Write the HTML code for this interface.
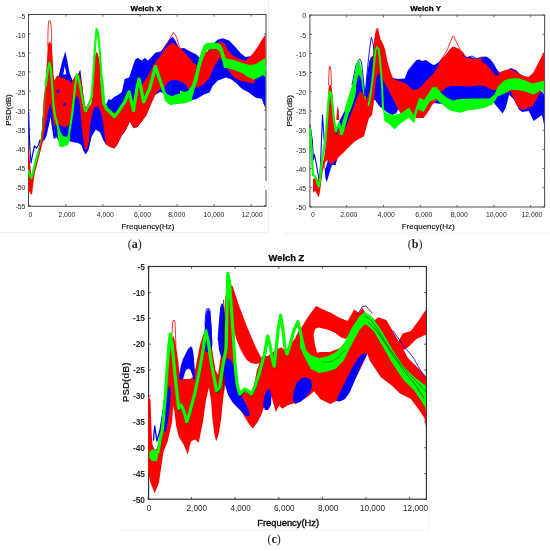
<!DOCTYPE html>
<html><head><meta charset="utf-8"><style>
html,body{margin:0;padding:0;background:#fff;}
body{width:550px;height:551px;overflow:hidden;}
svg{display:block;}
text{font-family:"Liberation Sans",Arial,sans-serif;fill:#262626;}
.ttl{fill:#000;stroke:#000;stroke-width:0.25px;}
.lab{fill:#111;stroke:#111;stroke-width:0.15px;}
.serif{font-family:"Liberation Serif","Times New Roman",serif;}
</style></head><body>
<svg width="550" height="551" viewBox="0 0 550 551">
<rect width="550" height="551" fill="#fff"/>
<path d="M0 232.5H268.5V0M284.5 233H550" fill="none" stroke="#f1f1f1" stroke-width="1"/>
<path d="M118 530H429V262" fill="none" stroke="#f1f1f1" stroke-width="1"/>
<defs><clipPath id="ca"><rect x="27.9" y="14.5" width="237.65" height="191.8"/></clipPath></defs>
<line x1="28.7" y1="206.3" x2="28.7" y2="204.1" stroke="#4a4a4a" stroke-width="0.8"/>
<line x1="28.7" y1="14.5" x2="28.7" y2="16.7" stroke="#4a4a4a" stroke-width="0.8"/>
<line x1="65.8" y1="206.3" x2="65.8" y2="204.1" stroke="#4a4a4a" stroke-width="0.8"/>
<line x1="65.8" y1="14.5" x2="65.8" y2="16.7" stroke="#4a4a4a" stroke-width="0.8"/>
<line x1="102.9" y1="206.3" x2="102.9" y2="204.1" stroke="#4a4a4a" stroke-width="0.8"/>
<line x1="102.9" y1="14.5" x2="102.9" y2="16.7" stroke="#4a4a4a" stroke-width="0.8"/>
<line x1="140" y1="206.3" x2="140" y2="204.1" stroke="#4a4a4a" stroke-width="0.8"/>
<line x1="140" y1="14.5" x2="140" y2="16.7" stroke="#4a4a4a" stroke-width="0.8"/>
<line x1="177.1" y1="206.3" x2="177.1" y2="204.1" stroke="#4a4a4a" stroke-width="0.8"/>
<line x1="177.1" y1="14.5" x2="177.1" y2="16.7" stroke="#4a4a4a" stroke-width="0.8"/>
<line x1="214.2" y1="206.3" x2="214.2" y2="204.1" stroke="#4a4a4a" stroke-width="0.8"/>
<line x1="214.2" y1="14.5" x2="214.2" y2="16.7" stroke="#4a4a4a" stroke-width="0.8"/>
<line x1="251.3" y1="206.3" x2="251.3" y2="204.1" stroke="#4a4a4a" stroke-width="0.8"/>
<line x1="251.3" y1="14.5" x2="251.3" y2="16.7" stroke="#4a4a4a" stroke-width="0.8"/>
<line x1="28.5" y1="14.7" x2="30.7" y2="14.7" stroke="#4a4a4a" stroke-width="0.8"/>
<line x1="266" y1="14.7" x2="263.8" y2="14.7" stroke="#4a4a4a" stroke-width="0.8"/>
<line x1="28.5" y1="33.8" x2="30.7" y2="33.8" stroke="#4a4a4a" stroke-width="0.8"/>
<line x1="266" y1="33.8" x2="263.8" y2="33.8" stroke="#4a4a4a" stroke-width="0.8"/>
<line x1="28.5" y1="52.9" x2="30.7" y2="52.9" stroke="#4a4a4a" stroke-width="0.8"/>
<line x1="266" y1="52.9" x2="263.8" y2="52.9" stroke="#4a4a4a" stroke-width="0.8"/>
<line x1="28.5" y1="71.9" x2="30.7" y2="71.9" stroke="#4a4a4a" stroke-width="0.8"/>
<line x1="266" y1="71.9" x2="263.8" y2="71.9" stroke="#4a4a4a" stroke-width="0.8"/>
<line x1="28.5" y1="91" x2="30.7" y2="91" stroke="#4a4a4a" stroke-width="0.8"/>
<line x1="266" y1="91" x2="263.8" y2="91" stroke="#4a4a4a" stroke-width="0.8"/>
<line x1="28.5" y1="110.1" x2="30.7" y2="110.1" stroke="#4a4a4a" stroke-width="0.8"/>
<line x1="266" y1="110.1" x2="263.8" y2="110.1" stroke="#4a4a4a" stroke-width="0.8"/>
<line x1="28.5" y1="129.2" x2="30.7" y2="129.2" stroke="#4a4a4a" stroke-width="0.8"/>
<line x1="266" y1="129.2" x2="263.8" y2="129.2" stroke="#4a4a4a" stroke-width="0.8"/>
<line x1="28.5" y1="148.3" x2="30.7" y2="148.3" stroke="#4a4a4a" stroke-width="0.8"/>
<line x1="266" y1="148.3" x2="263.8" y2="148.3" stroke="#4a4a4a" stroke-width="0.8"/>
<line x1="28.5" y1="167.3" x2="30.7" y2="167.3" stroke="#4a4a4a" stroke-width="0.8"/>
<line x1="266" y1="167.3" x2="263.8" y2="167.3" stroke="#4a4a4a" stroke-width="0.8"/>
<line x1="28.5" y1="186.4" x2="30.7" y2="186.4" stroke="#4a4a4a" stroke-width="0.8"/>
<line x1="266" y1="186.4" x2="263.8" y2="186.4" stroke="#4a4a4a" stroke-width="0.8"/>
<line x1="28.5" y1="205.5" x2="30.7" y2="205.5" stroke="#4a4a4a" stroke-width="0.8"/>
<line x1="266" y1="205.5" x2="263.8" y2="205.5" stroke="#4a4a4a" stroke-width="0.8"/>
<rect x="28.5" y="14.5" width="237.5" height="191.8" fill="none" stroke="#4a4a4a" stroke-width="1"/>
<g clip-path="url(#ca)">
<polygon points="41.5,140 42.5,118 44,112 48,100 52,95 55,85 58.7,76 62,62 65.3,51.6 67.5,62 69.6,73 72.5,80 76,84 79,72 80.3,69.5 80.8,74 81.8,82 83.2,95 85,106 88,108 92,104 96,100 100,105 104,108 108.7,99 111,100 114,97 118,95 121.8,92 124.7,78.9 129.1,77.5 134.9,60 137.8,57.8 141.5,60.5 145.1,57.8 148,60.7 155.3,52.7 161.1,51.3 166,44 169.8,38.9 172.7,36.7 175.6,41.1 179.3,48.4 184,48 189.8,51.3 196.4,54.5 199.6,57.8 205,55 212,45 217.6,39.8 222.5,38.2 229.1,40.6 235.6,47.2 240.5,52.9 245.5,57 250.4,56.2 255,60 262,68 266,72 266,110 261.8,99.1 255.3,97.5 248.7,92.5 242.2,88.9 238.9,86 237.3,84 230.7,79.1 225.8,77.5 217.6,80.7 212.7,86 209.5,92.5 204.5,94.2 196.4,99.1 186.5,101.5 180,102.4 172,98 165,94 160,92 155,95 150,105 146.5,115 142,121 137.8,126.7 133.5,128.2 129.8,121.6 126.2,129.6 121.8,135.5 117.5,144.2 114.5,148.5 110.2,147.1 105.8,144.2 103.1,139.8 100.2,132.5 95.8,129.6 91.5,136.9 88.5,150 85.6,154.5 83,150 81.3,145 78,143 72,142 69.6,141 66,140 62,140 58.7,141.3 56.5,137 55.5,138.5 53.5,125 51,112 50.3,108 49.5,112 47,125 44.5,137 43.5,141.5" fill="#0000ff"/>
<polyline points="28.6,112 29,125 29.5,140 30.3,155 31,163 32.5,155 34.5,146 36.5,148 38.5,145 40,140" fill="none" stroke="#0000ff" stroke-width="1.2" stroke-linejoin="round" stroke-linecap="round"/>
<polygon points="41.6,140 42.5,120 43.5,100 44.6,92 45.6,81.8 47,60 47.8,45.5 49,42 50,41.8 51.9,45.5 52.9,62.9 53.6,76 54.4,80.4 55.1,78.9 57.3,75.3 60.9,77.5 63.8,78.2 68.2,80.4 71.1,83.3 72.5,80.4 75,76 79.1,73.1 80.5,78 82,84 83.5,95 85,106 88,108 91,104 92.8,95 93.3,80 93.8,66 95,56 96.3,52 97.5,53 99.5,60 100.5,70 101.6,85 103,98 105,104 108,108 112,113 116,112 120,107 125,100 129,92 131,98 134,105 137,92 139.5,88 142.2,84.7 145,80 148,76 151,70 153.8,64.4 158.2,58.5 164,51.3 168.4,45.5 172.7,42.5 175.6,44.7 178.5,47 180,47.5 184.9,52.9 188.2,56.2 193.1,62.7 198,66 201,60 204.5,52.9 211.1,49.6 216,45 219.3,41.5 224.2,43.1 228,50 232,55 237.3,57.8 245.5,61.1 252,54.5 256.9,48 261.8,39.8 265.1,34.9 266,33 266,66 262,68 258,72 253.6,84 248.7,82.4 240.5,80.7 234,77.5 229.1,70.9 226,66 222,60 219.3,58 214.4,66 209.5,77.5 204,84 198,87.3 188.2,88.9 180,87.3 172,88 165,89 161.1,88.9 158.2,90.4 155.3,94.7 150.9,104.9 146.5,115.1 142.2,120.9 137.8,126.7 133.5,128.2 129.8,121.6 126.2,129.6 121.8,135.5 117.5,144.2 114.5,148.5 110.2,147.1 105.8,144.2 103.5,125 101,112 97.5,106 94,108 92,115 90,125 89,140 87.3,148.4 85.7,149.5 84.9,148.4 83.5,140 82,128 80.5,112 79.2,100 77,95 75,100 73,112 71,120 68,126 65,127 62,126 58.8,125 56,124 54.5,126 53,122 51.5,112 50.3,104 49,110 47.5,118 46,126 44.5,134 43.3,140" fill="#ff0000"/>
<polygon points="28.5,145 29.5,156 30.5,168 31.5,176 33,172 35,163 37,155 39,147 41,138 42.5,128 44,115 45.5,100 46.5,92 48,100 47,112 46,125 44.5,136 42,145 39.5,155 37,165 35,172 33.5,182 32,194.5 30.5,194 28.5,190" fill="#ff0000"/>
<polygon points="50.3,103 52,112 53.5,124 55.5,138 53.8,139 52,128 50.5,117 49,125 46.5,136 44,141 43.3,138 45.5,126 48,112" fill="#0000ff"/>
<ellipse cx="58" cy="91.2" rx="1.4" ry="1.8" fill="#0000ff"/>
<ellipse cx="64.5" cy="104.3" rx="1.3" ry="1.6" fill="#0000ff"/>
<polygon points="163,92 166,84 170,80.5 176,80 182,82 187,86 189,92" fill="#0000ff"/>
<polyline points="47.8,46 48,32 48.4,23 49.2,20.4 50,20.6 50.8,23 51.3,30 51.6,38 51.8,45" fill="none" stroke="#ff0000" stroke-width="0.8" stroke-linejoin="round" stroke-linecap="round"/>
<polygon points="64.8,66 63.2,75 66.3,74" fill="#fff"/>
<polyline points="162.5,52.7 168.4,41.1 173.5,32.4 176.4,36.7 179.3,46.9" fill="none" stroke="#ff0000" stroke-width="0.8" stroke-linejoin="round" stroke-linecap="round"/>
<polyline points="28.5,171 30,176 31.5,178 33.5,170 36,160 38.5,151" fill="none" stroke="#00ff00" stroke-width="2.2" stroke-linejoin="round" stroke-linecap="round"/>
<polyline points="38.5,151 41,141 42.5,128 44,112 45.6,86 47.5,72" fill="none" stroke="#5a9a00" stroke-width="1.1" stroke-linejoin="round" stroke-linecap="round"/>
<polyline points="45.6,86 47.5,72 49.5,62.5 51,70 52.2,86 53.5,105 55,116 58,127 59.6,142 60.4,145 63,145 66,144 67.7,140.3 69.4,132.1 72.6,110.8 75.1,86.3 76.7,74.5 78,76 80.8,89.6 83.2,102.7 84.9,110 86,111.3 88,106 90.5,100 91.6,97 92.5,85 93.5,72 94.5,55 95.6,40 96.6,29 98,33 99.3,45 100.3,60 101.6,77.5 103.6,102.7 106.9,109.2 108.7,110.7 111,113 114.5,116.5 118.9,110.7 124.7,102 129.1,91.8 133.5,110.7 137.1,87.5 139,79 141.5,90.5 143.6,102 149.5,88.9 152,80 155.3,66.5 159.6,78.9 164,92 168,97 172,99 178,96 183,97 186.5,97.5 190,95 196.4,80.7 199.6,64.4 204.5,46.4 207.8,43.9 212.7,44.7 217.6,44.7 220.9,48 224.2,57.8 226.6,62.7" fill="none" stroke="#00ff00" stroke-width="2.2" stroke-linejoin="round" stroke-linecap="round"/>
<polygon points="58.5,126 60,131 63,136 67,137 69.4,132 70,140 67.7,145 63,147 59.8,147 58.5,140" fill="#00ff00"/>
<polygon points="224,58 234,60 242,63 250,65 256,64 262,60 266,58 266,78 263,75 258,78 253.6,79.5 248,77 242,73 234,70 226,67.6" fill="#00ff00"/>
<polyline points="101.6,77.5 103.6,102.7 106.9,109.2 108.7,110.7 111,113 114.5,116.5 118.9,110.7 124.7,102 129.1,91.8 133.5,110.7 137.1,87.5 139,79 141.5,90.5 143.6,102 149.5,88.9 152,80 155.3,66.5 159.6,78.9 164,92" fill="none" stroke="#00ff00" stroke-width="3.2" stroke-linejoin="round" stroke-linecap="round"/>
<polygon points="162,88 166,94 172,96 178,94 184,93 190,92 193,90 192,101 186,103 178,104 170,105 165,101" fill="#00ff00"/>
<polygon points="180,90 184,92 188,91 192,85 195,75 198,62 201,52 204,45 207,43 212,42.5 217,43 220,44 222.5,48 224.5,55 226,60 227,68 224,68 222,60 220,52 217,49 212,49 207.5,50 205,54 202,62 199,72 196,84 193,95 190,100 186,101 182,100 180,99" fill="#00ff00"/>
</g>
<rect x="264.5" y="181" width="2.6" height="9" fill="#fff"/>
<text x="30.5" y="216.8" font-size="6.8" text-anchor="middle">0</text>
<text x="66.9" y="216.8" font-size="6.8" text-anchor="middle">2,000</text>
<text x="105.3" y="216.8" font-size="6.8" text-anchor="middle">4,000</text>
<text x="142.5" y="216.8" font-size="6.8" text-anchor="middle">6,000</text>
<text x="176.7" y="216.8" font-size="6.8" text-anchor="middle">8,000</text>
<text x="214" y="216.8" font-size="6.8" text-anchor="middle">10,000</text>
<text x="252.2" y="216.8" font-size="6.8" text-anchor="middle">12,000</text>
<text x="25.5" y="18.5" font-size="7" text-anchor="end">-5</text>
<text x="25.5" y="37.6" font-size="7" text-anchor="end">-10</text>
<text x="25.5" y="56.7" font-size="7" text-anchor="end">-15</text>
<text x="25.5" y="75.8" font-size="7" text-anchor="end">-20</text>
<text x="25.5" y="94.8" font-size="7" text-anchor="end">-25</text>
<text x="25.5" y="113.9" font-size="7" text-anchor="end">-30</text>
<text x="25.5" y="133" font-size="7" text-anchor="end">-35</text>
<text x="25.5" y="152.1" font-size="7" text-anchor="end">-40</text>
<text x="25.5" y="171.2" font-size="7" text-anchor="end">-45</text>
<text x="25.5" y="190.2" font-size="7" text-anchor="end">-50</text>
<text x="25.5" y="209.3" font-size="7" text-anchor="end">-55</text>
<text x="146" y="10.6" font-size="8" font-weight="bold" text-anchor="middle" class="ttl">Welch X</text>
<text x="147.9" y="229" font-size="8" text-anchor="middle" class="lab">Frequency(Hz)</text>
<text transform="translate(10.6,110) rotate(-90)" font-size="8" text-anchor="middle" class="lab">PSD(dB)</text>
<text x="134.8" y="247.5" font-size="12" text-anchor="middle" class="serif">(<tspan font-weight="bold">a</tspan>)</text>
<defs><clipPath id="cb"><rect x="309.29999999999995" y="15.1" width="234.85000000000005" height="191.9"/></clipPath></defs>
<line x1="309.9" y1="207" x2="309.9" y2="204.8" stroke="#4a4a4a" stroke-width="0.8"/>
<line x1="309.9" y1="15.1" x2="309.9" y2="17.3" stroke="#4a4a4a" stroke-width="0.8"/>
<line x1="346.7" y1="207" x2="346.7" y2="204.8" stroke="#4a4a4a" stroke-width="0.8"/>
<line x1="346.7" y1="15.1" x2="346.7" y2="17.3" stroke="#4a4a4a" stroke-width="0.8"/>
<line x1="383.5" y1="207" x2="383.5" y2="204.8" stroke="#4a4a4a" stroke-width="0.8"/>
<line x1="383.5" y1="15.1" x2="383.5" y2="17.3" stroke="#4a4a4a" stroke-width="0.8"/>
<line x1="420.3" y1="207" x2="420.3" y2="204.8" stroke="#4a4a4a" stroke-width="0.8"/>
<line x1="420.3" y1="15.1" x2="420.3" y2="17.3" stroke="#4a4a4a" stroke-width="0.8"/>
<line x1="457.1" y1="207" x2="457.1" y2="204.8" stroke="#4a4a4a" stroke-width="0.8"/>
<line x1="457.1" y1="15.1" x2="457.1" y2="17.3" stroke="#4a4a4a" stroke-width="0.8"/>
<line x1="493.9" y1="207" x2="493.9" y2="204.8" stroke="#4a4a4a" stroke-width="0.8"/>
<line x1="493.9" y1="15.1" x2="493.9" y2="17.3" stroke="#4a4a4a" stroke-width="0.8"/>
<line x1="530.7" y1="207" x2="530.7" y2="204.8" stroke="#4a4a4a" stroke-width="0.8"/>
<line x1="530.7" y1="15.1" x2="530.7" y2="17.3" stroke="#4a4a4a" stroke-width="0.8"/>
<line x1="309.9" y1="15.1" x2="312.1" y2="15.1" stroke="#4a4a4a" stroke-width="0.8"/>
<line x1="544.6" y1="15.1" x2="542.4" y2="15.1" stroke="#4a4a4a" stroke-width="0.8"/>
<line x1="309.9" y1="34.3" x2="312.1" y2="34.3" stroke="#4a4a4a" stroke-width="0.8"/>
<line x1="544.6" y1="34.3" x2="542.4" y2="34.3" stroke="#4a4a4a" stroke-width="0.8"/>
<line x1="309.9" y1="53.5" x2="312.1" y2="53.5" stroke="#4a4a4a" stroke-width="0.8"/>
<line x1="544.6" y1="53.5" x2="542.4" y2="53.5" stroke="#4a4a4a" stroke-width="0.8"/>
<line x1="309.9" y1="72.6" x2="312.1" y2="72.6" stroke="#4a4a4a" stroke-width="0.8"/>
<line x1="544.6" y1="72.6" x2="542.4" y2="72.6" stroke="#4a4a4a" stroke-width="0.8"/>
<line x1="309.9" y1="91.8" x2="312.1" y2="91.8" stroke="#4a4a4a" stroke-width="0.8"/>
<line x1="544.6" y1="91.8" x2="542.4" y2="91.8" stroke="#4a4a4a" stroke-width="0.8"/>
<line x1="309.9" y1="111" x2="312.1" y2="111" stroke="#4a4a4a" stroke-width="0.8"/>
<line x1="544.6" y1="111" x2="542.4" y2="111" stroke="#4a4a4a" stroke-width="0.8"/>
<line x1="309.9" y1="130.2" x2="312.1" y2="130.2" stroke="#4a4a4a" stroke-width="0.8"/>
<line x1="544.6" y1="130.2" x2="542.4" y2="130.2" stroke="#4a4a4a" stroke-width="0.8"/>
<line x1="309.9" y1="149.4" x2="312.1" y2="149.4" stroke="#4a4a4a" stroke-width="0.8"/>
<line x1="544.6" y1="149.4" x2="542.4" y2="149.4" stroke="#4a4a4a" stroke-width="0.8"/>
<line x1="309.9" y1="168.5" x2="312.1" y2="168.5" stroke="#4a4a4a" stroke-width="0.8"/>
<line x1="544.6" y1="168.5" x2="542.4" y2="168.5" stroke="#4a4a4a" stroke-width="0.8"/>
<line x1="309.9" y1="187.7" x2="312.1" y2="187.7" stroke="#4a4a4a" stroke-width="0.8"/>
<line x1="544.6" y1="187.7" x2="542.4" y2="187.7" stroke="#4a4a4a" stroke-width="0.8"/>
<line x1="309.9" y1="206.9" x2="312.1" y2="206.9" stroke="#4a4a4a" stroke-width="0.8"/>
<line x1="544.6" y1="206.9" x2="542.4" y2="206.9" stroke="#4a4a4a" stroke-width="0.8"/>
<rect x="309.9" y="15.1" width="234.7" height="191.9" fill="none" stroke="#4a4a4a" stroke-width="1"/>
<g clip-path="url(#cb)">
<polygon points="324,160 325.4,169 328,160 331,145 335,130 345,110 352,90 356,76 358.5,72 361,76 363,90 365,96 367,75 369,62 371,57 373,56 376,62 379.5,70 385,74 390,76 394.5,78.4 399,79 404.7,78.4 407.6,71.1 412,65.3 416.4,60.2 419.3,59.5 422.2,60.9 426,60 429.5,62.4 433.8,65.3 438.2,62.4 441.1,59.5 446,58 452,58 458,57 464.9,57.5 469.8,56.6 474.7,58.3 479,59 484.5,56.6 489.5,59.1 493,65 497.6,72.2 499.3,75.5 505,72 510.7,68.1 516,70 520,74 525.5,77.1 530,85 536,88 540,90 545,95 545,131 543.5,122 542,115 538.5,117.6 533.6,120.9 528.7,111.1 522.2,111.9 518.9,109.5 514,99.6 509.1,94.7 505.8,107.8 502.5,113.5 499.3,109.5 495.2,104.5 492,100 460,100 442.5,104 405,100 398,110 396,113.5 392,115 388,113 384.4,110 382,108 380,107 375,100 370.4,100 368.6,105 365,120 361,125 356,120 352,125 345,140 340,150 335.5,165 332,165 329.7,172 326.8,182.2 325.4,178" fill="#0000ff"/>
<polyline points="309.9,125 312.3,140 313.5,160 314.5,154.5 316.5,165 319.5,182.2 320.5,165 321.5,140 322.5,114.9 323.5,130 324.6,145.5 326,160" fill="none" stroke="#0000ff" stroke-width="1.1" stroke-linejoin="round" stroke-linecap="round"/>
<polygon points="344,112 348,98 352,86 355.5,72 357.5,64 358.6,61.5 360,63 362,72 364,86 366,98 368.6,106 366,112 362,100 360.5,90 358.8,80 357,88 354,100 350,112" fill="#00ff00"/>
<polygon points="355.9,80 358.8,74.5 361,78 363,92 365,104 362,110 358,108 356,100" fill="#0000ff"/>
<polygon points="313,179.3 315,178 318,180 320.3,175 322.5,165 325.4,150 327.5,116.4 328.3,91.6 329,85.8 331.2,84.4 332.6,94.5 333.5,110 334.3,125 335,132 336.5,135 338,131 339,126 340,130 341.5,136 344,131 347.2,124 351,114 354,106 357,98 359.5,92 362,92 364,96 366,100 368,96 370,90 372,75 373,55 374,40 376,31 377.3,29.1 379,33 380.5,39 382.9,43.5 385.1,49.3 387.3,60.9 390.2,71.1 393.1,78.4 396,80 405,83 413,90 418,89 422,86 426,81 430,77 434.4,72.7 438,66 441.1,59.5 445.5,55.1 449.8,49.3 452.7,46.4 456,47.5 460,49.3 463.3,52.5 466.5,57.5 475,59 481.3,57.5 486.2,57.5 492.7,64 499.3,72.2 504.2,70.5 509.1,68.9 515,71 522.2,75.5 528.7,77.1 533.6,72.2 538.5,62.4 542.6,54.2 545,51 545,90 541.8,89.8 536,100 533.6,105 528.7,108 522,110 518.9,108 514,99.6 510.7,91 505.8,93.1 500,95 497.6,90 494,90 491.1,89.8 486.2,86.5 479.6,85.5 469.8,86.5 460,86 452,86 446.9,87 441.1,92 436.7,100.4 432,105 429.5,110 423.6,118 415,118 409,115 402,115 400,112.5 397,107 394,101 391.2,95.2 387.5,88 384,82 380,75.5 378,72 376,80 374.5,95 373.5,105 372,115 369,118 367,125 365.4,131 364,136.3 361,138 358.6,139 354.5,141.7 351,145 347,149 343.6,152.6 339.9,156 335.4,160.8 331,165 328,160 325.4,162 322.5,172 320.3,189.5 318.8,197.5 315.2,190.9 313,192.4" fill="#ff0000"/>
<polygon points="482,58 486,56.5 490,59 494,64 497.6,71 499.3,75.5 496,76 491,70 486,64 481,61" fill="#0000ff"/>
<polyline points="462,55 467,57.5 472,56 477,58.5 482,57 487,58 492,62" fill="none" stroke="#0000ff" stroke-width="0.8" stroke-linejoin="round" stroke-linecap="round"/>
<polyline points="328.5,85 329,72 329.4,66 330.2,66.5 331,72 331.5,85" fill="none" stroke="#ff0000" stroke-width="0.8" stroke-linejoin="round" stroke-linecap="round"/>
<polygon points="336.3,120 337,110 337.7,105.5 338.6,110 339.3,120" fill="#ff0000"/>
<polyline points="352,85 356,65 359.5,59 361.5,62 363.5,80 365,96.2 367.5,68 369.5,50 371.3,37.2 373.1,43.6 375,58" fill="none" stroke="#0000ff" stroke-width="0.9" stroke-linejoin="round" stroke-linecap="round"/>
<polyline points="375.5,35 376.5,29 377.5,28 378.5,31" fill="none" stroke="#ff0000" stroke-width="0.8" stroke-linejoin="round" stroke-linecap="round"/>
<polyline points="441.1,59.5 446.9,50.7 452.7,36.2 453.5,36 455.6,40.4 460,49.3" fill="none" stroke="#ff0000" stroke-width="0.8" stroke-linejoin="round" stroke-linecap="round"/>
<polyline points="309.9,128 311.5,148.4 313,174.9 315.2,176.4 318.8,186.5 320,180 321.7,161.8 325.4,140 327,120 328.5,100 329.7,91.6 331,93 332.5,105 334,120 335.9,131.5 337.5,127.5 339.1,123 340.3,128 341.3,133.5" fill="none" stroke="#00ff00" stroke-width="2.2" stroke-linejoin="round" stroke-linecap="round"/>
<polyline points="341.3,133.5 343,128 345,120 349,106 353,91 356,76 358.6,63" fill="none" stroke="#00ff00" stroke-width="3.8" stroke-linejoin="round" stroke-linecap="round"/>
<polyline points="368.6,105.3 370.5,95 372.5,80 374,65 375.5,50 376.8,47.2 378.6,49 380,60 381.3,74.4 382.5,95 383,109" fill="none" stroke="#00ff00" stroke-width="2" stroke-linejoin="round" stroke-linecap="round"/>
<polygon points="382.9,109.1 387.3,113.5 394.5,114.9 400.4,113.5 409.1,107.6 413.5,114.9 419.3,97.5 424,100 429.5,92 432.4,87.3 436.7,87.3 441.1,93.1 446.9,97.5 452.7,100.4 460,99 476.4,98.5 489.5,98.5 494.4,94.7 497.6,86.9 504.2,80.4 509.1,78.7 517.3,77.9 525.5,80.4 532,83.6 538.5,82 545,80.4 545,95 541.8,89.8 533.6,94.7 525.5,91.5 518.9,90.2 510.7,89.8 505.8,93.1 497.6,96.4 492.7,104.5 484.5,107.8 476.4,109.5 468.2,110.3 460,112.7 449.8,110.5 442.5,104.7 436,98.9 429.5,101.8 423.6,112 417.8,109.1 414.2,123.6 409.1,117.8 400.4,123.6 394.5,129.5 390.2,125.1 384.4,120.7" fill="#00ff00"/>
</g>
<text x="312.8" y="216.8" font-size="6.8" text-anchor="middle">0</text>
<text x="348.7" y="216.8" font-size="6.8" text-anchor="middle">2,000</text>
<text x="386.3" y="216.8" font-size="6.8" text-anchor="middle">4,000</text>
<text x="423.8" y="216.8" font-size="6.8" text-anchor="middle">6,000</text>
<text x="459.3" y="216.8" font-size="6.8" text-anchor="middle">8,000</text>
<text x="496.3" y="216.8" font-size="6.8" text-anchor="middle">10,000</text>
<text x="531.9" y="216.8" font-size="6.8" text-anchor="middle">12,000</text>
<text x="306.2" y="18.3" font-size="7" text-anchor="end">0</text>
<text x="306.2" y="37.5" font-size="7" text-anchor="end">-5</text>
<text x="306.2" y="56.7" font-size="7" text-anchor="end">-10</text>
<text x="306.2" y="75.9" font-size="7" text-anchor="end">-15</text>
<text x="306.2" y="95" font-size="7" text-anchor="end">-20</text>
<text x="306.2" y="114.2" font-size="7" text-anchor="end">-25</text>
<text x="306.2" y="133.4" font-size="7" text-anchor="end">-30</text>
<text x="306.2" y="152.6" font-size="7" text-anchor="end">-35</text>
<text x="306.2" y="171.8" font-size="7" text-anchor="end">-40</text>
<text x="306.2" y="190.9" font-size="7" text-anchor="end">-45</text>
<text x="306.2" y="210.1" font-size="7" text-anchor="end">-50</text>
<text x="425.6" y="10.6" font-size="8" font-weight="bold" text-anchor="middle" class="ttl">Welch Y</text>
<text x="428.2" y="229" font-size="8" text-anchor="middle" class="lab">Frequency(Hz)</text>
<text transform="translate(291.8,110.8) rotate(-90)" font-size="8" text-anchor="middle" class="lab">PSD(dB)</text>
<text x="415.1" y="247.5" font-size="12" text-anchor="middle" class="serif">(<tspan font-weight="bold">b</tspan>)</text>
<defs><clipPath id="cc"><rect x="148.0" y="266.5" width="277.94999999999993" height="232.7"/></clipPath></defs>
<line x1="148" y1="499.2" x2="148" y2="497" stroke="#333" stroke-width="0.8"/>
<line x1="148" y1="266.5" x2="148" y2="268.7" stroke="#333" stroke-width="0.8"/>
<line x1="191.6" y1="499.2" x2="191.6" y2="497" stroke="#333" stroke-width="0.8"/>
<line x1="191.6" y1="266.5" x2="191.6" y2="268.7" stroke="#333" stroke-width="0.8"/>
<line x1="235.2" y1="499.2" x2="235.2" y2="497" stroke="#333" stroke-width="0.8"/>
<line x1="235.2" y1="266.5" x2="235.2" y2="268.7" stroke="#333" stroke-width="0.8"/>
<line x1="278.8" y1="499.2" x2="278.8" y2="497" stroke="#333" stroke-width="0.8"/>
<line x1="278.8" y1="266.5" x2="278.8" y2="268.7" stroke="#333" stroke-width="0.8"/>
<line x1="322.4" y1="499.2" x2="322.4" y2="497" stroke="#333" stroke-width="0.8"/>
<line x1="322.4" y1="266.5" x2="322.4" y2="268.7" stroke="#333" stroke-width="0.8"/>
<line x1="366" y1="499.2" x2="366" y2="497" stroke="#333" stroke-width="0.8"/>
<line x1="366" y1="266.5" x2="366" y2="268.7" stroke="#333" stroke-width="0.8"/>
<line x1="409.6" y1="499.2" x2="409.6" y2="497" stroke="#333" stroke-width="0.8"/>
<line x1="409.6" y1="266.5" x2="409.6" y2="268.7" stroke="#333" stroke-width="0.8"/>
<line x1="148.6" y1="266.6" x2="150.8" y2="266.6" stroke="#333" stroke-width="0.8"/>
<line x1="426.4" y1="266.6" x2="424.2" y2="266.6" stroke="#333" stroke-width="0.8"/>
<line x1="148.6" y1="292.5" x2="150.8" y2="292.5" stroke="#333" stroke-width="0.8"/>
<line x1="426.4" y1="292.5" x2="424.2" y2="292.5" stroke="#333" stroke-width="0.8"/>
<line x1="148.6" y1="318.3" x2="150.8" y2="318.3" stroke="#333" stroke-width="0.8"/>
<line x1="426.4" y1="318.3" x2="424.2" y2="318.3" stroke="#333" stroke-width="0.8"/>
<line x1="148.6" y1="344.2" x2="150.8" y2="344.2" stroke="#333" stroke-width="0.8"/>
<line x1="426.4" y1="344.2" x2="424.2" y2="344.2" stroke="#333" stroke-width="0.8"/>
<line x1="148.6" y1="370.1" x2="150.8" y2="370.1" stroke="#333" stroke-width="0.8"/>
<line x1="426.4" y1="370.1" x2="424.2" y2="370.1" stroke="#333" stroke-width="0.8"/>
<line x1="148.6" y1="396" x2="150.8" y2="396" stroke="#333" stroke-width="0.8"/>
<line x1="426.4" y1="396" x2="424.2" y2="396" stroke="#333" stroke-width="0.8"/>
<line x1="148.6" y1="421.8" x2="150.8" y2="421.8" stroke="#333" stroke-width="0.8"/>
<line x1="426.4" y1="421.8" x2="424.2" y2="421.8" stroke="#333" stroke-width="0.8"/>
<line x1="148.6" y1="447.7" x2="150.8" y2="447.7" stroke="#333" stroke-width="0.8"/>
<line x1="426.4" y1="447.7" x2="424.2" y2="447.7" stroke="#333" stroke-width="0.8"/>
<line x1="148.6" y1="473.6" x2="150.8" y2="473.6" stroke="#333" stroke-width="0.8"/>
<line x1="426.4" y1="473.6" x2="424.2" y2="473.6" stroke="#333" stroke-width="0.8"/>
<line x1="148.6" y1="499.4" x2="150.8" y2="499.4" stroke="#333" stroke-width="0.8"/>
<line x1="426.4" y1="499.4" x2="424.2" y2="499.4" stroke="#333" stroke-width="0.8"/>
<rect x="148.6" y="266.5" width="277.8" height="232.7" fill="none" stroke="#333" stroke-width="1.2"/>
<g clip-path="url(#cc)">
<polygon points="148,396 150.5,400 151.5,430 152.5,445 155,450 158,447 160,430 163,410 165.5,385 167.5,365 169,350 171,340 173.5,336 176,345 178,360 180,376 184,379 190,379 194,376 197,360 200,345 203,335 206,330 208,328 210,335 213,355 215.5,370 218,375 221,355 223,330 225,300 227,286 229,284 231,292 233,310 234.5,335 235,355 236.5,375 238.5,390 241,395 245,392 248,393 251,392 254,385 257,370 262,356 268,356 275.3,350.2 281.1,347.3 287,352 292.8,341.5 298.6,332.8 302,335 306,345 310,355 320,352 330,352 340,348 346,341 351,331 356,321 361,316 365.6,313 370.5,316 375,320 378.2,317.3 386.4,320 397.3,339.1 408.2,358.2 419.1,369.1 427,377.3 427,433 424.5,418.2 419.1,410 410.9,399.1 400,393.6 391.8,385.5 380.9,377.3 370,360.9 367.3,354 360,370 352,385 343.1,397.6 336.7,400.8 330.2,404.1 320.5,399.2 314,391.2 310,395 300,402 291.5,404.1 287.3,405.5 282.4,408.7 279.1,405.5 275.8,412 271,395 265,405 261.1,415.3 257.8,421.8 252.9,428.4 249.6,425.1 244.7,416.9 239.8,408.7 236,403 232,396 228,388 225,384 223,400 221,420 218.5,435 216.2,441.2 214.5,435 212.5,420 211,400 208.9,387.4 206,400 203.1,420.9 198.7,442.7 195.1,439.6 191,441.3 187.7,454.4 183.6,444.5 178.7,436.4 176,425 174.5,412 173.2,406.1 172.1,421.4 167.8,441 163.4,451.9 159,482.4 154.7,493.3 150.4,482.4 148,471.5" fill="#ff0000"/>
<polygon points="296,336 299,331 303,325 307.3,318 311.6,312 316,305.9 323.1,309.6 331.3,312.9 339.5,317.8 347.6,321.1 354.2,309.6 359.1,312.9 362.4,308 365,312 360,318 352,330 346,339.1 341.1,337.5 334.5,332.5 326.4,329.3 318.2,327.6 315,329 313.5,335 315,345 318,356 310,355 302,350 298,345" fill="#ff0000"/>
<polygon points="229,282 233,287 238.6,304.5 246.8,326.3 255,345.4 260.4,356.3 263,362 256,364 251,363 246.8,360 243,354 239,346 236,338 233.5,328 231.5,315 230,300" fill="#ff0000"/>
<polygon points="392,350 397,344 402.7,333.6 410.9,330.9 419.1,320 424.5,311.8 427,309 427,334 416.4,339.1 408.2,347.3 400,352 395,355" fill="#ff0000"/>
<polygon points="179,380 179.5,374 181,365 183,359 185,355 188,349 190.9,346.3 192.4,348 193.5,354 194.2,362 195,372 195.2,380 193.5,380 192,374 190.5,370 188.5,368.5 186,370 184.5,374 183.5,378 181,380" fill="#0000ff"/>
<polygon points="203.5,345 205,325 206.5,312 208.2,308.5 210,312 211.5,325 212.5,345 210,352 206,352" fill="#0000ff"/>
<polygon points="218,340 219.5,318 220.8,307 222.1,303.7 223.5,308 224.5,320 224.5,345 222,360 219,350" fill="#0000ff"/>
<polygon points="224,362 227,358 231,360 234,366 236,378 239,390 243.5,400 248,408 250,416 246,416 240,410 233,403 228,395 225,385 224,372" fill="#0000ff"/>
<polyline points="223.5,300 223,330 223.5,360 224,390" fill="none" stroke="#111" stroke-width="0.7" stroke-linejoin="round" stroke-linecap="round"/>
<polyline points="231.5,300 233.5,330 234.5,360" fill="none" stroke="#111" stroke-width="0.7" stroke-linejoin="round" stroke-linecap="round"/>
<polygon points="263,405 264.5,395 267,390 270,389 271.5,395 271,405 268,410 265,410" fill="#0000ff"/>
<polygon points="293,400 294,390 297,382 302,378 307,377.5 311,380 312,386 310,392 305,398 300,402 295,404" fill="#0000ff"/>
<polygon points="367.3,354 363,353.5 358,358 352,368 346,380 340,392 336,401 340,401.5 345,399 350,392 355,380 360,368 365,358" fill="#0000ff"/>
<polygon points="163,430 165,410 167,395 169,386 171,390 170,405 168,420 166,432" fill="#0000ff"/>
<polyline points="153.5,440 154.7,425.8 156.9,441 160,430 164,405 167.8,393 170,386.5" fill="none" stroke="#0000ff" stroke-width="1.3" stroke-linejoin="round" stroke-linecap="round"/>
<polyline points="171.5,345 172.2,330 172.8,321 174,320 175,322 175.5,335 176,345" fill="none" stroke="#ff0000" stroke-width="0.8" stroke-linejoin="round" stroke-linecap="round"/>
<polyline points="205,325 205.5,315 206.5,309 208.2,308.3 209.8,309.5 210.5,318 211,330" fill="none" stroke="#0000ff" stroke-width="0.9" stroke-linejoin="round" stroke-linecap="round"/>
<polyline points="218,340 219.5,320 220.8,307 222.1,303.7 223.5,308 225,325" fill="none" stroke="#0000ff" stroke-width="0.9" stroke-linejoin="round" stroke-linecap="round"/>
<polyline points="230.5,290 232,297 236,297.5" fill="none" stroke="#ff0000" stroke-width="0.8" stroke-linejoin="round" stroke-linecap="round"/>
<polyline points="393.2,330.9 403,345 413.6,358.2 424.5,377.3" fill="none" stroke="#0000ff" stroke-width="0.8" stroke-linejoin="round" stroke-linecap="round"/>
<polyline points="358,314 362.4,306.4 366,306 372,313" fill="none" stroke="#000066" stroke-width="0.8" stroke-linejoin="round" stroke-linecap="round"/>
<polyline points="160.6,442 163,432 165.6,402 167.6,372 169.6,347 170.8,336 172.8,347 175.6,377 179.3,410.7 181.6,407 184.2,412.4 187.5,423.8 190,415.6 195.7,394.4 200.6,369.8 203.9,350.2 206.3,332.7 208.6,342 212.1,366.5 215.3,382.9 217,392.7 220.2,389.5 223.6,367 226.8,350.2 227.6,312 228.4,275.5 230.1,284 232.1,312 234.1,342 236.1,372 238,387.8 240.4,396 245.3,391.1 248.6,392.7 251.9,396 255.1,389.5 260.1,374.7 265,356.7 268.2,338 270.6,347 272.6,360 274.8,368.2 276.6,352 278.6,332" fill="none" stroke="#151515" stroke-width="1.1" stroke-linejoin="round" stroke-linecap="round"/>
<polyline points="158,452 160,440 162.4,430 165,400 167,370 169,345 170.2,334 172.2,345 175,375 178.7,408.7 181,405 183.6,410.4 186.9,421.8 189.4,413.6 195.1,392.4 200,367.8 203.3,348.2 205.7,330.7 208,340 211.5,364.5 214.7,380.9 216.4,390.7 219.6,387.5 223,365 226.2,348.2 227,310 227.8,273.5 229.5,282 231.5,310 233.5,340 235.5,370 237.4,385.8 239.8,394 244.7,389.1 248,390.7 251.3,394 254.5,387.5 259.5,372.7 264.4,354.7 267.6,336 270,345 272,358 274.2,366.2 276,350 278,330 280.7,315.2 283,330 285,348 287,354 290,345 294,330 297.9,321.7 300,330 302,340 304.4,350" fill="none" stroke="#00ff00" stroke-width="3.2" stroke-linejoin="round" stroke-linecap="round"/>
<polygon points="149.3,452 152,449.5 156,450 158.3,455 157,461 152,461 149.3,458" fill="#00ff00"/>
<polygon points="300,338 302.7,344.4 306,350 311,355.3 319,358 327.2,356.6 335.4,352.6 343.5,344.4 351.7,328 359.8,315.8 365.3,311.8 373.4,318.6 381.6,330.8 392.5,349.8 403.3,366.1 414.2,377 425.1,385.2 427,387 427,420 425.1,407 414.2,390.6 403.3,379.7 392.5,363.4 381.6,344.4 373.4,330.8 365.3,324 359.8,329.4 351.7,344.4 343.5,360.7 335.4,368.9 327.2,371.6 319,373 310.9,368.9 305,358 300,347" fill="#00ff00"/>
<polyline points="365,316 372,321 380,333 390,349 400,363 410,375 420,385 426,392" fill="none" stroke="#0a3a0a" stroke-width="0.6" stroke-linejoin="round" stroke-linecap="round"/>
<polyline points="368,322 376,330 385,343 394,357 404,371 414,383 424,398" fill="none" stroke="#1a1a1a" stroke-width="0.6" stroke-linejoin="round" stroke-linecap="round"/>
<polyline points="322,362 330,362 338,358 345,350" fill="none" stroke="#1a3a1a" stroke-width="0.5" stroke-linejoin="round" stroke-linecap="round"/>
</g>
<text x="149.1" y="510.5" font-size="8.2" text-anchor="middle">0</text>
<text x="196.8" y="510.5" font-size="8.2" text-anchor="middle">2,000</text>
<text x="240.7" y="510.5" font-size="8.2" text-anchor="middle">4,000</text>
<text x="284.3" y="510.5" font-size="8.2" text-anchor="middle">6,000</text>
<text x="328.2" y="510.5" font-size="8.2" text-anchor="middle">8,000</text>
<text x="372.5" y="510.5" font-size="8.2" text-anchor="middle">10,000</text>
<text x="415.6" y="510.5" font-size="8.2" text-anchor="middle">12,000</text>
<text x="145" y="269.6" font-size="8.4" text-anchor="end" font-weight="bold">-5</text>
<text x="145" y="295.5" font-size="8.4" text-anchor="end" font-weight="bold">-10</text>
<text x="145" y="321.4" font-size="8.4" text-anchor="end" font-weight="bold">-15</text>
<text x="145" y="347.2" font-size="8.4" text-anchor="end" font-weight="bold">-20</text>
<text x="145" y="373.1" font-size="8.4" text-anchor="end" font-weight="bold">-25</text>
<text x="145" y="399" font-size="8.4" text-anchor="end" font-weight="bold">-30</text>
<text x="145" y="424.8" font-size="8.4" text-anchor="end" font-weight="bold">-35</text>
<text x="145" y="450.7" font-size="8.4" text-anchor="end" font-weight="bold">-40</text>
<text x="145" y="476.6" font-size="8.4" text-anchor="end" font-weight="bold">-45</text>
<text x="145" y="502.5" font-size="8.4" text-anchor="end" font-weight="bold">-50</text>
<text x="286.4" y="261" font-size="9.4" font-weight="bold" text-anchor="middle" class="ttl">Welch Z</text>
<text x="288.2" y="526.4" font-size="9.4" text-anchor="middle" class="lab" style="stroke-width:0.4px">Frequency(Hz)</text>
<text transform="translate(128.6,382.3) rotate(-90)" font-size="9.8" font-weight="bold" text-anchor="middle">PSD(dB)</text>
<text x="274.1" y="543.4" font-size="12" text-anchor="middle" class="serif">(<tspan font-weight="bold">c</tspan>)</text>
</svg>
</body></html>
